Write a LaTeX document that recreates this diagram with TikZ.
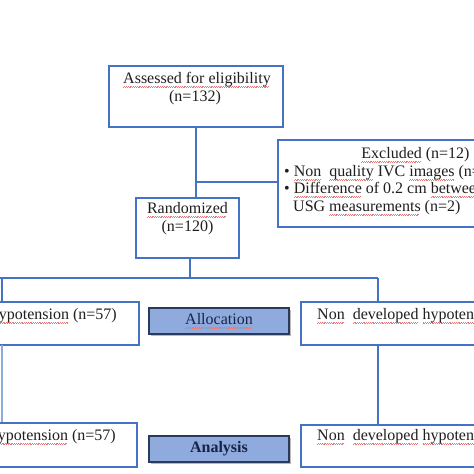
\documentclass[tikz,border=0pt]{standalone}
\usepackage{fontspec}
\setmainfont{Liberation Serif}
\usetikzlibrary{shadows}
\definecolor{lineblue}{HTML}{4472C4}
\definecolor{labfill}{HTML}{8FAADC}
\definecolor{labdraw}{HTML}{2A3A5C}
\definecolor{labtext}{HTML}{172448}
\definecolor{spellred}{HTML}{E87878}
\newsavebox\sqbox
\newcommand\sq[1]{\leavevmode\sbox\sqbox{#1}\rlap{\hbox to \wd\sqbox{\color{spellred}\leaders\hbox{\rule[-3.4pt]{0.9pt}{0.45pt}\rule[-2.9pt]{0.9pt}{0.45pt}}\hfill}}\usebox\sqbox}
\begin{document}
\begin{tikzpicture}[x=1pt,y=-1pt,
  box/.style={draw=lineblue,line width=1.6pt,fill=white,inner sep=0pt},
  conn/.style={draw=lineblue,line width=1.6pt},
  txt/.style={font=\fontsize{16}{18}\selectfont,inner sep=0pt,text=black!88},
  stage/.style={draw=labdraw,line width=1.4pt,fill=labfill,inner sep=0pt,
    minimum width=140pt,minimum height=26pt,text=labtext,
    font=\fontsize{16}{18}\selectfont,
    drop shadow={shadow xshift=1.5pt,shadow yshift=-1.5pt,fill=black!45,opacity=0.6}}]
\useasboundingbox (0,0) rectangle (474,474);
\clip (0,0) rectangle (474,474);
\fill[white] (0,0) rectangle (474,474);
% junction coordinates
\coordinate (j1) at (196,182);
\coordinate (j2) at (190,278);
\coordinate (jl) at (2,278);
\coordinate (jr) at (378,278);
\coordinate (jlb) at (2,345);
\coordinate (jw) at (-5,278);
% boxes
\node[box,minimum width=174pt,minimum height=61pt] (assess) at (196,96.5) {};
\node[box,minimum width=212pt,minimum height=87pt] (excl) at (384,183.5) {};
\node[box,minimum width=103pt,minimum height=60pt] (rand) at (187.5,228) {};
\node[box,minimum width=339pt,minimum height=43pt] (alloL) at (-30.5,323.5) {};
\node[box,minimum width=299pt,minimum height=43pt] (alloR) at (450.5,323.5) {};
\node[box,minimum width=337pt,minimum height=44pt] (anaL) at (-31.5,445) {};
\node[box,minimum width=299pt,minimum height=42pt] (anaR) at (450.5,446) {};
% connectors
\draw[conn] (assess.south -| j1) -- (rand.north -| j1);
\draw[conn] (j1) -- (excl.west |- j1);
\draw[conn] (rand.south -| j2) -- (j2);
\draw[conn] (jw) -- (jr);
\draw[conn] (jr) -- (alloR.north -| jr);
\draw[conn] (jl) -- (alloL.north -| jl);
\draw[conn] (alloR.south -| jr) -- (anaR.north -| jr);
\draw[conn,draw=lineblue!60] (jlb) -- (anaL.north -| jlb);
% texts
\node[txt] (t1) at (197,80) {\sq{Assessed for eligibility}};
\node[txt] (t2) at (195,98) {(n=132)};
\node[txt] (t3) at (187.5,210) {\sq{Randomized}};
\node[txt] (t4) at (187.5,228) {(n=120)};
\node[txt] (t5) at (415.5,155) {\sq{Excluded} (n=12)};
\node[txt,anchor=west] (t6) at (284,173) {• \sq{Non}\ \ \sq{quality} IVC \sq{images} (n=10)};
\node[txt,anchor=west] (t7) at (284,190) {• \sq{Difference} of 0.2 cm \sq{between}};
\node[txt,anchor=west] (t8) at (293,208) {USG \sq{measurements} (n=2)};
\node[txt,anchor=east] (t9) at (117,316) {Developed \sq{hypotension} (n=57)};
\node[txt,anchor=west] (t10) at (317,316) {\sq{Non}\ \ \sq{developed} \sq{hypotension} (n=63)};
\node[txt,anchor=east] (t11) at (116,437) {Developed \sq{hypotension} (n=57)};
\node[txt,anchor=west] (t12) at (317,437) {\sq{Non}\ \ \sq{developed} \sq{hypotension} (n=63)};
% stage labels
\node[stage] (alloc) at (219,321) {\sq{Allocation}};
\node[stage,font=\fontsize{16}{18}\selectfont\bfseries] (anal) at (219,449) {Analysis};
\end{tikzpicture}
\end{document}
